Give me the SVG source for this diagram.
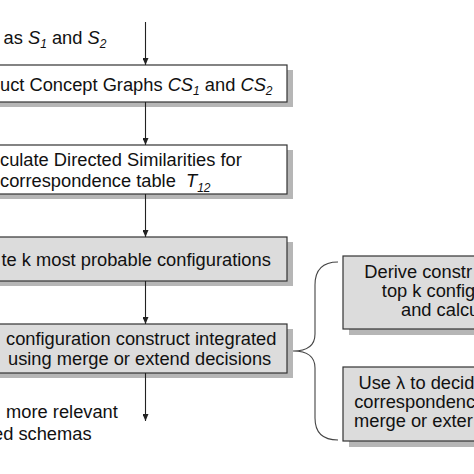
<svg xmlns="http://www.w3.org/2000/svg" width="474" height="474" viewBox="0 0 474 474">
<style>
  .t { font-family: "Liberation Sans", Arial, sans-serif; font-size: 18.3px; fill: #111; }
  .i { font-style: italic; }
  .sub { font-size: 12px; font-style: italic; }
  .box { stroke: #333; stroke-width: 1.2; }
  .white { fill: #ffffff; }
  .grey { fill: #dcdcdc; }
  .shadow { fill: #b6b6b6; }
  .conn { stroke: #222; stroke-width: 1.1; fill: none; }
  .brace { stroke: #444; stroke-width: 1.1; fill: none; }
</style>
<defs>
  <marker id="ah" markerUnits="userSpaceOnUse" markerWidth="7" markerHeight="6" refX="7" refY="3" orient="auto">
    <path d="M0,0 L7,3 L0,6 z" fill="#222"/>
  </marker>
</defs>
<rect x="0" y="0" width="474" height="474" fill="#ffffff"/>

<g id="input">
  <text class="t" x="3.6" y="43.5">as <tspan class="i">S</tspan><tspan class="sub" dy="4">1</tspan><tspan dy="-4"> and </tspan><tspan class="i">S</tspan><tspan class="sub" dy="4">2</tspan></text>
</g>

<g id="construct">
  <rect class="shadow" x="-74" y="70" width="367" height="37"/>
  <rect class="box white" x="-80" y="65" width="367" height="37"/>
  <text class="t" x="0" y="91">uct Concept Graphs <tspan class="i">CS</tspan><tspan class="sub" dy="4">1</tspan><tspan dy="-4"> and </tspan><tspan class="i">CS</tspan><tspan class="sub" dy="4">2</tspan></text>
</g>

<g id="similarities">
  <rect class="shadow" x="-74" y="150" width="367" height="49"/>
  <rect class="box white" x="-80" y="145" width="367" height="49"/>
  <text class="t" x="0" y="166">culate Directed Similarities for</text>
  <text class="t" x="0" y="187">correspondence table <tspan class="i" x="186">T</tspan><tspan class="sub" dy="5">12</tspan></text>
</g>

<g id="configurations">
  <rect class="shadow" x="-74" y="242" width="367" height="44"/>
  <rect class="box grey" x="-80" y="237" width="367" height="44"/>
  <text class="t" x="1.5" y="266">te k most probable configurations</text>
</g>

<g id="integrate">
  <rect class="shadow" x="-74" y="329" width="367" height="49"/>
  <rect class="box grey" x="-80" y="324" width="367" height="49"/>
  <text class="t" x="6" y="344.5">configuration construct integrated</text>
  <text class="t" x="8" y="365">using merge or extend decisions</text>
</g>

<g id="output">
  <text class="t" x="6.1" y="418">more relevant</text>
  <text class="t" x="-7" y="440">ed schemas</text>
</g>

<g id="derive">
  <rect class="shadow" x="349" y="262" width="160" height="73"/>
  <rect class="box grey" x="343" y="256" width="160" height="73"/>
  <text class="t" x="364.3" y="277.5">Derive constr</text>
  <text class="t" x="381.8" y="296.5">top k config</text>
  <text class="t" x="401" y="315.5">and calcu</text>
</g>

<g id="decide">
  <rect class="shadow" x="349" y="373" width="160" height="74"/>
  <rect class="box grey" x="343" y="367" width="160" height="74"/>
  <text class="t" x="358.5" y="389">Use λ to decid</text>
  <text class="t" x="354.2" y="408">correspondenc</text>
  <text class="t" x="354" y="427">merge or exter</text>
</g>

<g id="connectors">
  <line class="conn" x1="145.5" y1="22" x2="145.5" y2="65" marker-end="url(#ah)"/>
  <line class="conn" x1="145.5" y1="102" x2="145.5" y2="145" marker-end="url(#ah)"/>
  <line class="conn" x1="145.5" y1="194" x2="145.5" y2="237" marker-end="url(#ah)"/>
  <line class="conn" x1="145.5" y1="281" x2="145.5" y2="324" marker-end="url(#ah)"/>
  <line class="conn" x1="145.5" y1="373" x2="145.5" y2="421" marker-end="url(#ah)"/>
  <path class="brace" d="M338,262 C322,262 315,270 315,285 L315,334 C315,346 306,351 293,351 C306,351 315,356 315,368 L315,418 C315,432 322,440 338,440"/>
</g>
</svg>
